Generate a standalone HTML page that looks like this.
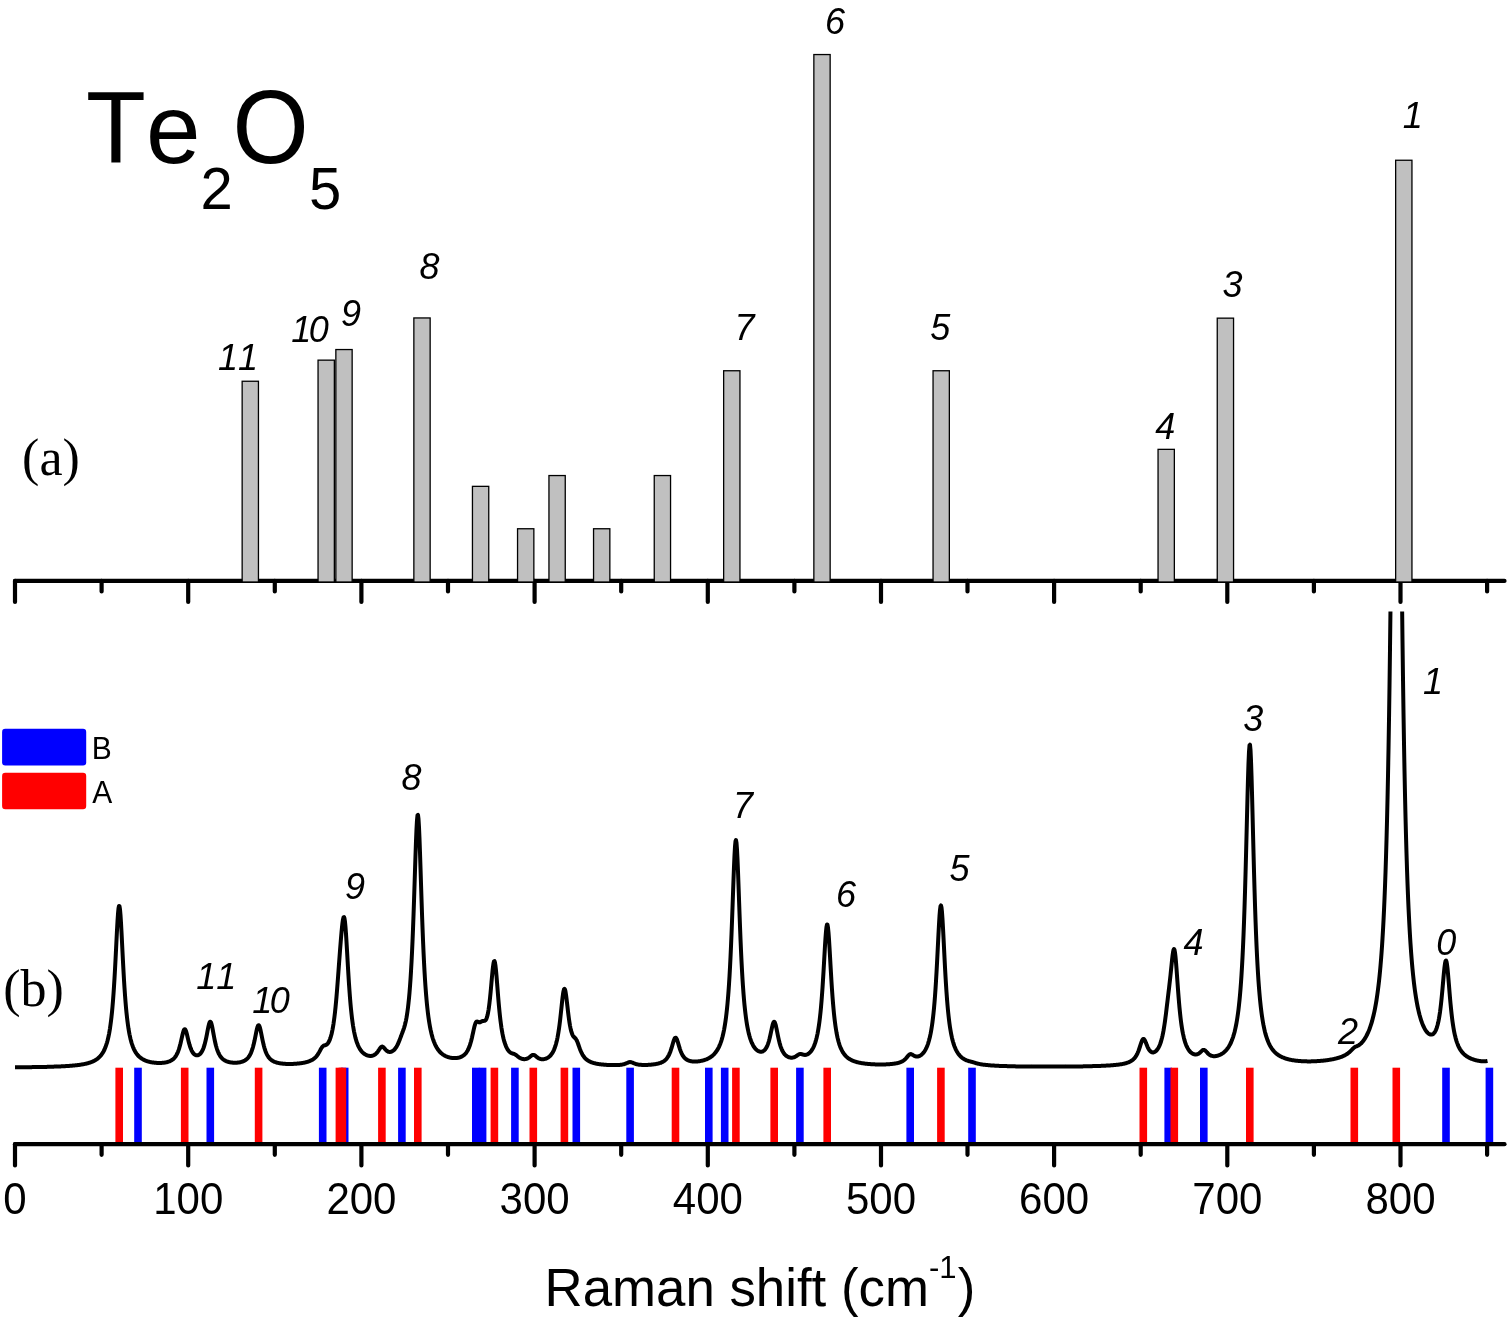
<!DOCTYPE html>
<html lang="en"><head><meta charset="utf-8"><title>Te2O5 Raman spectrum</title>
<style>html,body{margin:0;padding:0;background:#fff}svg{display:block}text{font-kerning:none;font-variant-ligatures:none}</style></head>
<body>
<svg width="1508" height="1320" viewBox="0 0 1508 1320">
<rect width="1508" height="1320" fill="#fff"/>
<g stroke="#000" stroke-width="4.2" stroke-linecap="round" fill="none">
<path d="M15.0 580.9H1504.5"/>
<path d="M15.0 580.9v21.0M101.6 580.9v10.6M188.2 580.9v21.0M274.8 580.9v10.6M361.4 580.9v21.0M448.0 580.9v10.6M534.6 580.9v21.0M621.2 580.9v10.6M707.8 580.9v21.0M794.4 580.9v10.6M881.0 580.9v21.0M967.5 580.9v10.6M1054.1 580.9v21.0M1140.7 580.9v10.6M1227.3 580.9v21.0M1313.9 580.9v10.6M1400.5 580.9v21.0M1487.1 580.9v10.6"/>
</g>
<g fill="#c0c0c0" stroke="#000" stroke-width="1.3">
<rect x="242.15" y="381.25" width="16.3" height="200.75"/>
<rect x="318.05" y="360.15" width="16.3" height="221.85"/>
<rect x="335.85" y="349.55" width="16.3" height="232.45"/>
<rect x="413.85" y="317.95" width="16.3" height="264.05"/>
<rect x="472.45" y="486.35" width="16.3" height="95.65"/>
<rect x="517.55" y="528.75" width="16.3" height="53.25"/>
<rect x="548.95" y="475.55" width="16.3" height="106.45"/>
<rect x="593.55" y="528.75" width="16.3" height="53.25"/>
<rect x="654.25" y="475.55" width="16.3" height="106.45"/>
<rect x="723.65" y="370.75" width="16.3" height="211.25"/>
<rect x="813.85" y="54.55" width="16.3" height="527.45"/>
<rect x="933.05" y="370.75" width="16.3" height="211.25"/>
<rect x="1158.05" y="449.35" width="16.3" height="132.65"/>
<rect x="1217.25" y="318.15" width="16.3" height="263.85"/>
<rect x="1395.65" y="160.25" width="16.3" height="421.75"/>
</g>
<g fill="#00f">
<rect x="134.2" y="1067.7" width="7.6" height="76.5"/>
<rect x="206.5" y="1067.7" width="7.6" height="76.5"/>
<rect x="318.9" y="1067.7" width="7.6" height="76.5"/>
<rect x="340.9" y="1067.7" width="7.6" height="76.5"/>
<rect x="398.1" y="1067.7" width="7.6" height="76.5"/>
<rect x="472.0" y="1067.7" width="7.6" height="76.5"/>
<rect x="478.8" y="1067.7" width="7.6" height="76.5"/>
<rect x="511.1" y="1067.7" width="7.6" height="76.5"/>
<rect x="572.5" y="1067.7" width="7.6" height="76.5"/>
<rect x="626.3" y="1067.7" width="7.6" height="76.5"/>
<rect x="705.0" y="1067.7" width="7.6" height="76.5"/>
<rect x="720.9" y="1067.7" width="7.6" height="76.5"/>
<rect x="796.1" y="1067.7" width="7.6" height="76.5"/>
<rect x="906.4" y="1067.7" width="7.6" height="76.5"/>
<rect x="968.2" y="1067.7" width="7.6" height="76.5"/>
<rect x="1164.4" y="1067.7" width="7.6" height="76.5"/>
<rect x="1200.0" y="1067.7" width="7.6" height="76.5"/>
<rect x="1442.2" y="1067.7" width="7.6" height="76.5"/>
<rect x="1485.6" y="1067.7" width="7.6" height="76.5"/>
</g>
<g fill="#f00">
<rect x="115.4" y="1067.7" width="7.6" height="76.5"/>
<rect x="180.9" y="1067.7" width="7.6" height="76.5"/>
<rect x="254.8" y="1067.7" width="7.6" height="76.5"/>
<rect x="335.6" y="1067.7" width="7.6" height="76.5"/>
<rect x="338.6" y="1067.7" width="7.6" height="76.5"/>
<rect x="378.1" y="1067.7" width="7.6" height="76.5"/>
<rect x="414.0" y="1067.7" width="7.6" height="76.5"/>
<rect x="490.6" y="1067.7" width="7.6" height="76.5"/>
<rect x="529.5" y="1067.7" width="7.6" height="76.5"/>
<rect x="560.6" y="1067.7" width="7.6" height="76.5"/>
<rect x="671.7" y="1067.7" width="7.6" height="76.5"/>
<rect x="732.1" y="1067.7" width="7.6" height="76.5"/>
<rect x="770.4" y="1067.7" width="7.6" height="76.5"/>
<rect x="823.4" y="1067.7" width="7.6" height="76.5"/>
<rect x="937.1" y="1067.7" width="7.6" height="76.5"/>
<rect x="1139.5" y="1067.7" width="7.6" height="76.5"/>
<rect x="1170.5" y="1067.7" width="7.6" height="76.5"/>
<rect x="1246.0" y="1067.7" width="7.6" height="76.5"/>
<rect x="1350.5" y="1067.7" width="7.6" height="76.5"/>
<rect x="1392.5" y="1067.7" width="7.6" height="76.5"/>
</g>
<g stroke="#000" stroke-width="4.2" stroke-linecap="round" fill="none">
<path d="M15.0 1144.2H1504.5"/>
<path d="M15.0 1144.2v21.2M101.6 1144.2v10.6M188.2 1144.2v21.2M274.8 1144.2v10.6M361.4 1144.2v21.2M448.0 1144.2v10.6M534.6 1144.2v21.2M621.2 1144.2v10.6M707.8 1144.2v21.2M794.4 1144.2v10.6M881.0 1144.2v21.2M967.5 1144.2v10.6M1054.1 1144.2v21.2M1140.7 1144.2v10.6M1227.3 1144.2v21.2M1313.9 1144.2v10.6M1400.5 1144.2v21.2M1487.1 1144.2v10.6"/>
</g>
<clipPath id="cp"><rect x="0" y="611.5" width="1508" height="600"/></clipPath>
<path clip-path="url(#cp)" d="M15.0 1067.3 15.5 1067.3 16.0 1067.3 16.5 1067.3 17.0 1067.3 17.5 1067.3 18.0 1067.3 18.5 1067.3 19.0 1067.3 19.5 1067.3 20.0 1067.3 20.5 1067.3 21.0 1067.3 21.5 1067.3 22.0 1067.3 22.5 1067.3 23.0 1067.3 23.5 1067.3 24.0 1067.3 24.5 1067.2 25.0 1067.2 25.5 1067.2 26.0 1067.2 26.5 1067.2 27.0 1067.2 27.5 1067.2 28.0 1067.2 28.5 1067.2 29.0 1067.2 29.5 1067.2 30.0 1067.2 30.5 1067.2 31.0 1067.2 31.5 1067.2 32.0 1067.1 32.5 1067.1 33.0 1067.1 33.5 1067.1 34.0 1067.1 34.5 1067.1 35.0 1067.1 35.5 1067.1 36.0 1067.1 36.5 1067.1 37.0 1067.1 37.5 1067.1 38.0 1067.0 38.5 1067.0 39.0 1067.0 39.5 1067.0 40.0 1067.0 40.5 1067.0 41.0 1067.0 41.5 1067.0 42.0 1067.0 42.5 1067.0 43.0 1066.9 43.5 1066.9 44.0 1066.9 44.5 1066.9 45.0 1066.9 45.5 1066.9 46.0 1066.9 46.5 1066.9 47.0 1066.9 47.5 1066.8 48.0 1066.8 48.5 1066.8 49.0 1066.8 49.5 1066.8 50.0 1066.8 50.5 1066.8 51.0 1066.7 51.5 1066.7 52.0 1066.7 52.5 1066.7 53.0 1066.7 53.5 1066.7 54.0 1066.6 54.5 1066.6 55.0 1066.6 55.5 1066.6 56.0 1066.6 56.5 1066.6 57.0 1066.5 57.5 1066.5 58.0 1066.5 58.5 1066.5 59.0 1066.5 59.5 1066.4 60.0 1066.4 60.5 1066.4 61.0 1066.4 61.5 1066.3 62.0 1066.3 62.5 1066.3 63.0 1066.3 63.5 1066.2 64.0 1066.2 64.5 1066.2 65.0 1066.2 65.5 1066.1 66.0 1066.1 66.5 1066.1 67.0 1066.0 67.5 1066.0 68.0 1066.0 68.5 1065.9 69.0 1065.9 69.5 1065.9 70.0 1065.8 70.5 1065.8 71.0 1065.8 71.5 1065.7 72.0 1065.7 72.5 1065.6 73.0 1065.6 73.5 1065.5 74.0 1065.5 74.5 1065.4 75.0 1065.4 75.5 1065.3 76.0 1065.3 76.5 1065.2 77.0 1065.2 77.5 1065.1 78.0 1065.1 78.5 1065.0 79.0 1064.9 79.5 1064.9 80.0 1064.8 80.5 1064.7 81.0 1064.6 81.5 1064.6 82.0 1064.5 82.5 1064.4 83.0 1064.3 83.5 1064.2 84.0 1064.1 84.5 1064.0 85.0 1063.9 85.5 1063.8 86.0 1063.7 86.5 1063.6 87.0 1063.4 87.5 1063.3 88.0 1063.2 88.5 1063.0 89.0 1062.9 89.5 1062.7 90.0 1062.6 90.5 1062.4 91.0 1062.2 91.5 1062.0 92.0 1061.8 92.5 1061.6 93.0 1061.4 93.5 1061.2 94.0 1060.9 94.5 1060.6 95.0 1060.4 95.5 1060.1 96.0 1059.8 96.5 1059.4 97.0 1059.1 97.5 1058.7 98.0 1058.3 98.5 1057.9 99.0 1057.4 99.5 1056.9 100.0 1056.4 100.5 1055.9 101.0 1055.3 101.5 1054.6 102.0 1053.9 102.5 1053.2 103.0 1052.4 103.5 1051.5 104.0 1050.5 104.5 1049.5 105.0 1048.3 105.5 1047.1 106.0 1045.7 106.5 1044.2 107.0 1042.6 107.5 1040.8 108.0 1038.7 108.5 1036.5 109.0 1034.1 109.5 1031.3 110.0 1028.3 110.5 1024.8 111.0 1021.0 111.5 1016.8 112.0 1012.0 112.5 1006.6 113.0 1000.6 113.5 993.9 114.0 986.5 114.5 978.4 115.0 969.5 115.5 960.0 116.0 950.1 116.5 940.0 117.0 930.2 117.5 921.3 118.0 913.8 118.5 908.5 119.0 905.9 119.5 906.2 120.0 909.4 120.5 915.2 121.0 922.9 121.5 932.1 122.0 942.0 122.5 952.0 123.0 961.9 123.5 971.2 124.0 980.0 124.5 987.9 125.0 995.2 125.5 1001.7 126.0 1007.6 126.5 1012.8 127.0 1017.4 127.5 1021.6 128.0 1025.3 128.5 1028.7 129.0 1031.6 129.5 1034.3 130.0 1036.7 130.5 1038.9 131.0 1040.8 131.5 1042.6 132.0 1044.2 132.5 1045.6 133.0 1047.0 133.5 1048.2 134.0 1049.3 134.5 1050.3 135.0 1051.2 135.5 1052.1 136.0 1052.9 136.5 1053.6 137.0 1054.3 137.5 1054.9 138.0 1055.5 138.5 1056.0 139.0 1056.5 139.5 1056.9 140.0 1057.4 140.5 1057.8 141.0 1058.1 141.5 1058.5 142.0 1058.8 142.5 1059.1 143.0 1059.4 143.5 1059.7 144.0 1059.9 144.5 1060.2 145.0 1060.4 145.5 1060.6 146.0 1060.8 146.5 1061.0 147.0 1061.1 147.5 1061.3 148.0 1061.5 148.5 1061.6 149.0 1061.7 149.5 1061.9 150.0 1062.0 150.5 1062.1 151.0 1062.2 151.5 1062.3 152.0 1062.4 152.5 1062.4 153.0 1062.5 153.5 1062.6 154.0 1062.6 154.5 1062.7 155.0 1062.8 155.5 1062.8 156.0 1062.8 156.5 1062.9 157.0 1062.9 157.5 1062.9 158.0 1062.9 158.5 1063.0 159.0 1063.0 159.5 1063.0 160.0 1063.0 160.5 1062.9 161.0 1062.9 161.5 1062.9 162.0 1062.9 162.5 1062.8 163.0 1062.8 163.5 1062.7 164.0 1062.7 164.5 1062.6 165.0 1062.5 165.5 1062.5 166.0 1062.4 166.5 1062.3 167.0 1062.1 167.5 1062.0 168.0 1061.9 168.5 1061.7 169.0 1061.5 169.5 1061.3 170.0 1061.1 170.5 1060.9 171.0 1060.6 171.5 1060.3 172.0 1060.0 172.5 1059.6 173.0 1059.3 173.5 1058.8 174.0 1058.3 174.5 1057.8 175.0 1057.2 175.5 1056.5 176.0 1055.8 176.5 1054.9 177.0 1054.0 177.5 1052.9 178.0 1051.7 178.5 1050.4 179.0 1048.9 179.5 1047.2 180.0 1045.4 180.5 1043.5 181.0 1041.4 181.5 1039.1 182.0 1036.9 182.5 1034.7 183.0 1032.7 183.5 1031.0 184.0 1029.8 184.5 1029.2 185.0 1029.2 185.5 1029.9 186.0 1031.1 186.5 1032.7 187.0 1034.6 187.5 1036.7 188.0 1038.9 188.5 1040.9 189.0 1042.9 189.5 1044.7 190.0 1046.3 190.5 1047.8 191.0 1049.1 191.5 1050.3 192.0 1051.3 192.5 1052.1 193.0 1052.9 193.5 1053.5 194.0 1054.0 194.5 1054.4 195.0 1054.8 195.5 1055.0 196.0 1055.2 196.5 1055.3 197.0 1055.3 197.5 1055.3 198.0 1055.2 198.5 1055.0 199.0 1054.8 199.5 1054.4 200.0 1054.0 200.5 1053.5 201.0 1052.9 201.5 1052.2 202.0 1051.3 202.5 1050.4 203.0 1049.2 203.5 1048.0 204.0 1046.5 204.5 1044.9 205.0 1043.0 205.5 1041.0 206.0 1038.8 206.5 1036.3 207.0 1033.8 207.5 1031.1 208.0 1028.6 208.5 1026.2 209.0 1024.1 209.5 1022.6 210.0 1021.8 210.5 1021.8 211.0 1022.5 211.5 1024.0 212.0 1026.0 212.5 1028.5 213.0 1031.1 213.5 1033.8 214.0 1036.5 214.5 1039.1 215.0 1041.5 215.5 1043.7 216.0 1045.7 216.5 1047.5 217.0 1049.1 217.5 1050.5 218.0 1051.8 218.5 1053.0 219.0 1054.0 219.5 1054.9 220.0 1055.8 220.5 1056.5 221.0 1057.1 221.5 1057.7 222.0 1058.3 222.5 1058.8 223.0 1059.2 223.5 1059.6 224.0 1059.9 224.5 1060.3 225.0 1060.5 225.5 1060.8 226.0 1061.0 226.5 1061.3 227.0 1061.5 227.5 1061.6 228.0 1061.8 228.5 1061.9 229.0 1062.1 229.5 1062.2 230.0 1062.3 230.5 1062.4 231.0 1062.5 231.5 1062.5 232.0 1062.6 232.5 1062.6 233.0 1062.7 233.5 1062.7 234.0 1062.7 234.5 1062.8 235.0 1062.8 235.5 1062.8 236.0 1062.7 236.5 1062.7 237.0 1062.7 237.5 1062.6 238.0 1062.6 238.5 1062.5 239.0 1062.5 239.5 1062.4 240.0 1062.3 240.5 1062.2 241.0 1062.0 241.5 1061.9 242.0 1061.7 242.5 1061.6 243.0 1061.4 243.5 1061.2 244.0 1060.9 244.5 1060.7 245.0 1060.4 245.5 1060.0 246.0 1059.7 246.5 1059.3 247.0 1058.8 247.5 1058.3 248.0 1057.8 248.5 1057.2 249.0 1056.5 249.5 1055.7 250.0 1054.9 250.5 1053.9 251.0 1052.8 251.5 1051.6 252.0 1050.2 252.5 1048.7 253.0 1047.0 253.5 1045.1 254.0 1043.0 254.5 1040.8 255.0 1038.3 255.5 1035.8 256.0 1033.3 256.5 1030.9 257.0 1028.7 257.5 1026.9 258.0 1025.7 258.5 1025.2 259.0 1025.4 259.5 1026.4 260.0 1027.9 260.5 1030.0 261.0 1032.3 261.5 1034.9 262.0 1037.4 262.5 1039.9 263.0 1042.2 263.5 1044.3 264.0 1046.3 264.5 1048.1 265.0 1049.7 265.5 1051.2 266.0 1052.4 266.5 1053.6 267.0 1054.6 267.5 1055.5 268.0 1056.3 268.5 1057.1 269.0 1057.7 269.5 1058.3 270.0 1058.8 270.5 1059.3 271.0 1059.7 271.5 1060.1 272.0 1060.5 272.5 1060.8 273.0 1061.1 273.5 1061.4 274.0 1061.6 274.5 1061.8 275.0 1062.0 275.5 1062.2 276.0 1062.4 276.5 1062.5 277.0 1062.7 277.5 1062.8 278.0 1062.9 278.5 1063.0 279.0 1063.1 279.5 1063.2 280.0 1063.3 280.5 1063.4 281.0 1063.5 281.5 1063.5 282.0 1063.6 282.5 1063.6 283.0 1063.7 283.5 1063.7 284.0 1063.8 284.5 1063.8 285.0 1063.8 285.5 1063.9 286.0 1063.9 286.5 1063.9 287.0 1063.9 287.5 1063.9 288.0 1064.0 288.5 1064.0 289.0 1064.0 289.5 1064.0 290.0 1064.0 290.5 1064.0 291.0 1063.9 291.5 1063.9 292.0 1063.9 292.5 1063.9 293.0 1063.9 293.5 1063.9 294.0 1063.8 294.5 1063.8 295.0 1063.8 295.5 1063.8 296.0 1063.7 296.5 1063.7 297.0 1063.6 297.5 1063.6 298.0 1063.5 298.5 1063.5 299.0 1063.4 299.5 1063.4 300.0 1063.3 300.5 1063.3 301.0 1063.2 301.5 1063.1 302.0 1063.0 302.5 1063.0 303.0 1062.9 303.5 1062.8 304.0 1062.7 304.5 1062.6 305.0 1062.5 305.5 1062.4 306.0 1062.2 306.5 1062.1 307.0 1062.0 307.5 1061.8 308.0 1061.7 308.5 1061.5 309.0 1061.3 309.5 1061.1 310.0 1060.9 310.5 1060.7 311.0 1060.5 311.5 1060.2 312.0 1060.0 312.5 1059.7 313.0 1059.4 313.5 1059.0 314.0 1058.6 314.5 1058.2 315.0 1057.8 315.5 1057.3 316.0 1056.8 316.5 1056.2 317.0 1055.6 317.5 1054.9 318.0 1054.1 318.5 1053.3 319.0 1052.5 319.5 1051.6 320.0 1050.7 320.5 1049.7 321.0 1048.8 321.5 1048.0 322.0 1047.2 322.5 1046.6 323.0 1046.1 323.5 1045.8 324.0 1045.5 324.5 1045.4 325.0 1045.3 325.5 1045.1 326.0 1044.9 326.5 1044.7 327.0 1044.3 327.5 1043.8 328.0 1043.2 328.5 1042.4 329.0 1041.5 329.5 1040.4 330.0 1039.2 330.5 1037.7 331.0 1036.0 331.5 1034.2 332.0 1032.0 332.5 1029.6 333.0 1026.8 333.5 1023.8 334.0 1020.3 334.5 1016.5 335.0 1012.2 335.5 1007.5 336.0 1002.3 336.5 996.7 337.0 990.6 337.5 984.2 338.0 977.6 338.5 970.8 339.0 964.0 339.5 957.3 340.0 950.7 340.5 944.3 341.0 938.2 341.5 932.5 342.0 927.3 342.5 922.8 343.0 919.4 343.5 917.4 344.0 917.0 344.5 918.5 345.0 921.9 345.5 927.2 346.0 933.9 346.5 941.8 347.0 950.4 347.5 959.2 348.0 967.9 348.5 976.2 349.0 984.0 349.5 991.2 350.0 997.8 350.5 1003.8 351.0 1009.1 351.5 1013.9 352.0 1018.2 352.5 1022.0 353.0 1025.5 353.5 1028.5 354.0 1031.3 354.5 1033.7 355.0 1035.9 355.5 1037.9 356.0 1039.7 356.5 1041.3 357.0 1042.8 357.5 1044.1 358.0 1045.3 358.5 1046.4 359.0 1047.4 359.5 1048.3 360.0 1049.1 360.5 1049.9 361.0 1050.6 361.5 1051.2 362.0 1051.8 362.5 1052.3 363.0 1052.8 363.5 1053.2 364.0 1053.6 364.5 1054.0 365.0 1054.3 365.5 1054.6 366.0 1054.9 366.5 1055.1 367.0 1055.3 367.5 1055.5 368.0 1055.6 368.5 1055.7 369.0 1055.8 369.5 1055.9 370.0 1055.9 370.5 1056.0 371.0 1055.9 371.5 1055.9 372.0 1055.8 372.5 1055.7 373.0 1055.5 373.5 1055.4 374.0 1055.1 374.5 1054.8 375.0 1054.5 375.5 1054.1 376.0 1053.7 376.5 1053.2 377.0 1052.6 377.5 1052.0 378.0 1051.3 378.5 1050.5 379.0 1049.8 379.5 1049.0 380.0 1048.3 380.5 1047.6 381.0 1047.1 381.5 1046.7 382.0 1046.6 382.5 1046.6 383.0 1046.9 383.5 1047.3 384.0 1047.8 384.5 1048.4 385.0 1049.0 385.5 1049.6 386.0 1050.1 386.5 1050.6 387.0 1051.0 387.5 1051.3 388.0 1051.6 388.5 1051.8 389.0 1051.9 389.5 1052.0 390.0 1052.0 390.5 1051.9 391.0 1051.8 391.5 1051.6 392.0 1051.4 392.5 1051.1 393.0 1050.8 393.5 1050.4 394.0 1050.0 394.5 1049.5 395.0 1048.9 395.5 1048.2 396.0 1047.5 396.5 1046.7 397.0 1045.8 397.5 1044.9 398.0 1043.8 398.5 1042.7 399.0 1041.5 399.5 1040.3 400.0 1038.9 400.5 1037.6 401.0 1036.3 401.5 1034.9 402.0 1033.6 402.5 1032.3 403.0 1030.9 403.5 1029.5 404.0 1028.1 404.5 1026.4 405.0 1024.6 405.5 1022.6 406.0 1020.3 406.5 1017.7 407.0 1014.7 407.5 1011.3 408.0 1007.5 408.5 1003.1 409.0 998.2 409.5 992.7 410.0 986.4 410.5 979.3 411.0 971.4 411.5 962.5 412.0 952.5 412.5 941.4 413.0 929.1 413.5 915.7 414.0 901.2 414.5 886.0 415.0 870.5 415.5 855.3 416.0 841.1 416.5 829.1 417.0 820.2 417.5 815.3 418.0 814.9 418.5 819.0 419.0 827.3 419.5 838.8 420.0 852.7 420.5 867.9 421.0 883.5 421.5 898.9 422.0 913.7 422.5 927.4 423.0 940.0 423.5 951.5 424.0 961.9 424.5 971.2 425.0 979.5 425.5 986.9 426.0 993.5 426.5 999.4 427.0 1004.7 427.5 1009.4 428.0 1013.7 428.5 1017.5 429.0 1020.9 429.5 1024.0 430.0 1026.8 430.5 1029.4 431.0 1031.7 431.5 1033.8 432.0 1035.7 432.5 1037.5 433.0 1039.1 433.5 1040.5 434.0 1041.9 434.5 1043.1 435.0 1044.3 435.5 1045.3 436.0 1046.3 436.5 1047.2 437.0 1048.1 437.5 1048.8 438.0 1049.6 438.5 1050.2 439.0 1050.9 439.5 1051.5 440.0 1052.0 440.5 1052.5 441.0 1053.0 441.5 1053.4 442.0 1053.8 442.5 1054.2 443.0 1054.6 443.5 1054.9 444.0 1055.2 444.5 1055.5 445.0 1055.8 445.5 1056.1 446.0 1056.3 446.5 1056.5 447.0 1056.7 447.5 1056.9 448.0 1057.1 448.5 1057.2 449.0 1057.4 449.5 1057.5 450.0 1057.6 450.5 1057.7 451.0 1057.8 451.5 1057.9 452.0 1058.0 452.5 1058.0 453.0 1058.1 453.5 1058.1 454.0 1058.1 454.5 1058.1 455.0 1058.1 455.5 1058.1 456.0 1058.1 456.5 1058.0 457.0 1058.0 457.5 1057.9 458.0 1057.8 458.5 1057.7 459.0 1057.6 459.5 1057.5 460.0 1057.3 460.5 1057.1 461.0 1056.9 461.5 1056.7 462.0 1056.4 462.5 1056.1 463.0 1055.8 463.5 1055.4 464.0 1055.1 464.5 1054.6 465.0 1054.1 465.5 1053.6 466.0 1053.0 466.5 1052.3 467.0 1051.5 467.5 1050.7 468.0 1049.8 468.5 1048.7 469.0 1047.6 469.5 1046.3 470.0 1044.8 470.5 1043.2 471.0 1041.5 471.5 1039.5 472.0 1037.5 472.5 1035.2 473.0 1033.0 473.5 1030.6 474.0 1028.4 474.5 1026.3 475.0 1024.6 475.5 1023.2 476.0 1022.2 476.5 1021.7 477.0 1021.5 477.5 1021.6 478.0 1021.8 478.5 1022.1 479.0 1022.3 479.5 1022.4 480.0 1022.3 480.5 1022.1 481.0 1021.8 481.5 1021.5 482.0 1021.2 482.5 1021.0 483.0 1020.9 483.5 1020.9 484.0 1020.9 484.5 1020.8 485.0 1020.6 485.5 1020.3 486.0 1019.6 486.5 1018.6 487.0 1017.2 487.5 1015.3 488.0 1013.0 488.5 1010.1 489.0 1006.7 489.5 1002.8 490.0 998.3 490.5 993.3 491.0 987.9 491.5 982.2 492.0 976.6 492.5 971.3 493.0 966.8 493.5 963.3 494.0 961.3 494.5 961.1 495.0 962.7 495.5 965.9 496.0 970.4 496.5 976.0 497.0 982.1 497.5 988.5 498.0 994.8 498.5 1000.9 499.0 1006.5 499.5 1011.7 500.0 1016.5 500.5 1020.8 501.0 1024.6 501.5 1028.1 502.0 1031.1 502.5 1033.9 503.0 1036.3 503.5 1038.5 504.0 1040.4 504.5 1042.2 505.0 1043.7 505.5 1045.1 506.0 1046.3 506.5 1047.4 507.0 1048.4 507.5 1049.3 508.0 1050.0 508.5 1050.7 509.0 1051.3 509.5 1051.8 510.0 1052.2 510.5 1052.6 511.0 1052.9 511.5 1053.1 512.0 1053.3 512.5 1053.5 513.0 1053.6 513.5 1053.8 514.0 1053.9 514.5 1054.1 515.0 1054.4 515.5 1054.7 516.0 1055.0 516.5 1055.4 517.0 1055.8 517.5 1056.2 518.0 1056.6 518.5 1057.0 519.0 1057.4 519.5 1057.7 520.0 1058.0 520.5 1058.2 521.0 1058.5 521.5 1058.7 522.0 1058.8 522.5 1059.0 523.0 1059.1 523.5 1059.1 524.0 1059.2 524.5 1059.2 525.0 1059.1 525.5 1059.1 526.0 1059.0 526.5 1058.8 527.0 1058.7 527.5 1058.5 528.0 1058.2 528.5 1057.9 529.0 1057.6 529.5 1057.2 530.0 1056.8 530.5 1056.4 531.0 1056.0 531.5 1055.6 532.0 1055.3 532.5 1055.0 533.0 1054.9 533.5 1054.9 534.0 1055.0 534.5 1055.2 535.0 1055.5 535.5 1055.9 536.0 1056.3 536.5 1056.8 537.0 1057.2 537.5 1057.5 538.0 1057.9 538.5 1058.2 539.0 1058.5 539.5 1058.7 540.0 1058.9 540.5 1059.0 541.0 1059.1 541.5 1059.2 542.0 1059.3 542.5 1059.3 543.0 1059.3 543.5 1059.2 544.0 1059.1 544.5 1059.0 545.0 1058.9 545.5 1058.8 546.0 1058.6 546.5 1058.4 547.0 1058.2 547.5 1057.9 548.0 1057.6 548.5 1057.2 549.0 1056.9 549.5 1056.4 550.0 1056.0 550.5 1055.5 551.0 1054.9 551.5 1054.2 552.0 1053.5 552.5 1052.7 553.0 1051.9 553.5 1050.9 554.0 1049.8 554.5 1048.6 555.0 1047.2 555.5 1045.7 556.0 1044.0 556.5 1042.1 557.0 1040.0 557.5 1037.6 558.0 1034.9 558.5 1031.9 559.0 1028.6 559.5 1024.9 560.0 1020.9 560.5 1016.5 561.0 1011.9 561.5 1007.2 562.0 1002.5 562.5 998.1 563.0 994.2 563.5 991.2 564.0 989.4 564.5 988.8 565.0 989.6 565.5 991.6 566.0 994.7 566.5 998.5 567.0 1002.7 567.5 1007.1 568.0 1011.4 568.5 1015.5 569.0 1019.2 569.5 1022.6 570.0 1025.6 570.5 1028.2 571.0 1030.4 571.5 1032.2 572.0 1033.7 572.5 1034.8 573.0 1035.8 573.5 1036.5 574.0 1037.0 574.5 1037.5 575.0 1038.0 575.5 1038.5 576.0 1039.2 576.5 1040.0 577.0 1041.0 577.5 1042.2 578.0 1043.5 578.5 1045.0 579.0 1046.4 579.5 1047.8 580.0 1049.2 580.5 1050.4 581.0 1051.6 581.5 1052.7 582.0 1053.7 582.5 1054.7 583.0 1055.5 583.5 1056.2 584.0 1056.9 584.5 1057.5 585.0 1058.1 585.5 1058.6 586.0 1059.1 586.5 1059.5 587.0 1059.9 587.5 1060.3 588.0 1060.6 588.5 1060.9 589.0 1061.2 589.5 1061.4 590.0 1061.7 590.5 1061.9 591.0 1062.1 591.5 1062.3 592.0 1062.5 592.5 1062.6 593.0 1062.8 593.5 1063.0 594.0 1063.1 594.5 1063.2 595.0 1063.3 595.5 1063.5 596.0 1063.6 596.5 1063.7 597.0 1063.8 597.5 1063.9 598.0 1063.9 598.5 1064.0 599.0 1064.1 599.5 1064.2 600.0 1064.2 600.5 1064.3 601.0 1064.4 601.5 1064.4 602.0 1064.5 602.5 1064.5 603.0 1064.6 603.5 1064.6 604.0 1064.7 604.5 1064.7 605.0 1064.8 605.5 1064.8 606.0 1064.8 606.5 1064.9 607.0 1064.9 607.5 1064.9 608.0 1065.0 608.5 1065.0 609.0 1065.0 609.5 1065.0 610.0 1065.0 610.5 1065.1 611.0 1065.1 611.5 1065.1 612.0 1065.1 612.5 1065.1 613.0 1065.1 613.5 1065.1 614.0 1065.1 614.5 1065.1 615.0 1065.1 615.5 1065.1 616.0 1065.1 616.5 1065.1 617.0 1065.1 617.5 1065.0 618.0 1065.0 618.5 1065.0 619.0 1065.0 619.5 1064.9 620.0 1064.9 620.5 1064.8 621.0 1064.8 621.5 1064.7 622.0 1064.6 622.5 1064.5 623.0 1064.4 623.5 1064.3 624.0 1064.2 624.5 1064.0 625.0 1063.8 625.5 1063.7 626.0 1063.5 626.5 1063.2 627.0 1063.0 627.5 1062.8 628.0 1062.6 628.5 1062.4 629.0 1062.2 629.5 1062.1 630.0 1062.1 630.5 1062.1 631.0 1062.2 631.5 1062.3 632.0 1062.5 632.5 1062.7 633.0 1062.9 633.5 1063.1 634.0 1063.3 634.5 1063.5 635.0 1063.7 635.5 1063.9 636.0 1064.1 636.5 1064.2 637.0 1064.3 637.5 1064.4 638.0 1064.5 638.5 1064.6 639.0 1064.7 639.5 1064.7 640.0 1064.8 640.5 1064.8 641.0 1064.8 641.5 1064.9 642.0 1064.9 642.5 1064.9 643.0 1064.9 643.5 1064.9 644.0 1064.9 644.5 1064.9 645.0 1064.9 645.5 1064.9 646.0 1064.9 646.5 1064.9 647.0 1064.9 647.5 1064.9 648.0 1064.9 648.5 1064.8 649.0 1064.8 649.5 1064.8 650.0 1064.7 650.5 1064.7 651.0 1064.7 651.5 1064.6 652.0 1064.6 652.5 1064.5 653.0 1064.5 653.5 1064.4 654.0 1064.3 654.5 1064.3 655.0 1064.2 655.5 1064.1 656.0 1064.0 656.5 1063.9 657.0 1063.8 657.5 1063.7 658.0 1063.6 658.5 1063.5 659.0 1063.3 659.5 1063.2 660.0 1063.0 660.5 1062.8 661.0 1062.7 661.5 1062.4 662.0 1062.2 662.5 1062.0 663.0 1061.7 663.5 1061.4 664.0 1061.1 664.5 1060.7 665.0 1060.3 665.5 1059.8 666.0 1059.3 666.5 1058.8 667.0 1058.1 667.5 1057.4 668.0 1056.7 668.5 1055.8 669.0 1054.8 669.5 1053.7 670.0 1052.5 670.5 1051.2 671.0 1049.7 671.5 1048.2 672.0 1046.5 672.5 1044.7 673.0 1043.0 673.5 1041.4 674.0 1039.9 674.5 1038.7 675.0 1038.0 675.5 1037.7 676.0 1037.9 676.5 1038.6 677.0 1039.7 677.5 1041.1 678.0 1042.7 678.5 1044.4 679.0 1046.1 679.5 1047.7 680.0 1049.3 680.5 1050.7 681.0 1051.9 681.5 1053.1 682.0 1054.1 682.5 1055.1 683.0 1055.9 683.5 1056.6 684.0 1057.2 684.5 1057.8 685.0 1058.3 685.5 1058.7 686.0 1059.1 686.5 1059.5 687.0 1059.8 687.5 1060.0 688.0 1060.3 688.5 1060.5 689.0 1060.7 689.5 1060.8 690.0 1061.0 690.5 1061.1 691.0 1061.2 691.5 1061.3 692.0 1061.4 692.5 1061.4 693.0 1061.5 693.5 1061.5 694.0 1061.5 694.5 1061.5 695.0 1061.5 695.5 1061.5 696.0 1061.5 696.5 1061.5 697.0 1061.5 697.5 1061.4 698.0 1061.4 698.5 1061.3 699.0 1061.3 699.5 1061.2 700.0 1061.1 700.5 1061.0 701.0 1060.9 701.5 1060.8 702.0 1060.7 702.5 1060.6 703.0 1060.5 703.5 1060.3 704.0 1060.2 704.5 1060.0 705.0 1059.9 705.5 1059.7 706.0 1059.5 706.5 1059.3 707.0 1059.1 707.5 1058.9 708.0 1058.6 708.5 1058.4 709.0 1058.1 709.5 1057.8 710.0 1057.5 710.5 1057.2 711.0 1056.8 711.5 1056.5 712.0 1056.1 712.5 1055.7 713.0 1055.2 713.5 1054.8 714.0 1054.3 714.5 1053.7 715.0 1053.2 715.5 1052.5 716.0 1051.9 716.5 1051.2 717.0 1050.4 717.5 1049.6 718.0 1048.8 718.5 1047.8 719.0 1046.8 719.5 1045.7 720.0 1044.5 720.5 1043.2 721.0 1041.8 721.5 1040.3 722.0 1038.6 722.5 1036.8 723.0 1034.7 723.5 1032.5 724.0 1030.1 724.5 1027.4 725.0 1024.4 725.5 1021.1 726.0 1017.4 726.5 1013.3 727.0 1008.7 727.5 1003.6 728.0 997.9 728.5 991.5 729.0 984.3 729.5 976.3 730.0 967.4 730.5 957.4 731.0 946.4 731.5 934.4 732.0 921.5 732.5 907.8 733.0 893.7 733.5 879.7 734.0 866.6 734.5 855.3 735.0 846.5 735.5 841.3 736.0 840.0 736.5 842.9 737.0 849.6 737.5 859.4 738.0 871.5 738.5 885.0 739.0 899.1 739.5 913.0 740.0 926.4 740.5 939.0 741.0 950.5 741.5 961.1 742.0 970.6 742.5 979.1 743.0 986.7 743.5 993.5 744.0 999.6 744.5 1005.0 745.0 1009.8 745.5 1014.1 746.0 1018.0 746.5 1021.5 747.0 1024.6 747.5 1027.4 748.0 1029.9 748.5 1032.2 749.0 1034.2 749.5 1036.1 750.0 1037.8 750.5 1039.3 751.0 1040.7 751.5 1042.0 752.0 1043.2 752.5 1044.2 753.0 1045.2 753.5 1046.1 754.0 1046.9 754.5 1047.6 755.0 1048.2 755.5 1048.8 756.0 1049.3 756.5 1049.8 757.0 1050.2 757.5 1050.6 758.0 1050.9 758.5 1051.2 759.0 1051.4 759.5 1051.5 760.0 1051.7 760.5 1051.7 761.0 1051.7 761.5 1051.7 762.0 1051.6 762.5 1051.5 763.0 1051.2 763.5 1050.9 764.0 1050.6 764.5 1050.1 765.0 1049.6 765.5 1049.0 766.0 1048.2 766.5 1047.4 767.0 1046.4 767.5 1045.2 768.0 1043.9 768.5 1042.4 769.0 1040.7 769.5 1038.8 770.0 1036.7 770.5 1034.5 771.0 1032.2 771.5 1029.8 772.0 1027.5 772.5 1025.4 773.0 1023.6 773.5 1022.4 774.0 1021.8 774.5 1021.9 775.0 1022.8 775.5 1024.3 776.0 1026.3 776.5 1028.6 777.0 1031.1 777.5 1033.6 778.0 1036.1 778.5 1038.4 779.0 1040.6 779.5 1042.6 780.0 1044.4 780.5 1046.1 781.0 1047.5 781.5 1048.8 782.0 1050.0 782.5 1051.0 783.0 1051.9 783.5 1052.7 784.0 1053.5 784.5 1054.1 785.0 1054.7 785.5 1055.2 786.0 1055.6 786.5 1056.0 787.0 1056.3 787.5 1056.6 788.0 1056.9 788.5 1057.1 789.0 1057.3 789.5 1057.4 790.0 1057.5 790.5 1057.6 791.0 1057.7 791.5 1057.7 792.0 1057.7 792.5 1057.6 793.0 1057.5 793.5 1057.4 794.0 1057.3 794.5 1057.1 795.0 1056.9 795.5 1056.6 796.0 1056.3 796.5 1056.0 797.0 1055.6 797.5 1055.3 798.0 1054.9 798.5 1054.6 799.0 1054.3 799.5 1054.1 800.0 1054.0 800.5 1054.0 801.0 1054.0 801.5 1054.1 802.0 1054.3 802.5 1054.4 803.0 1054.6 803.5 1054.7 804.0 1054.8 804.5 1054.9 805.0 1054.9 805.5 1054.9 806.0 1054.8 806.5 1054.7 807.0 1054.5 807.5 1054.3 808.0 1054.0 808.5 1053.7 809.0 1053.3 809.5 1052.9 810.0 1052.4 810.5 1051.9 811.0 1051.3 811.5 1050.6 812.0 1049.9 812.5 1049.0 813.0 1048.1 813.5 1047.1 814.0 1046.0 814.5 1044.7 815.0 1043.4 815.5 1041.8 816.0 1040.1 816.5 1038.2 817.0 1036.1 817.5 1033.8 818.0 1031.1 818.5 1028.2 819.0 1024.9 819.5 1021.2 820.0 1017.0 820.5 1012.4 821.0 1007.2 821.5 1001.3 822.0 994.9 822.5 987.8 823.0 980.0 823.5 971.8 824.0 963.1 824.5 954.3 825.0 945.7 825.5 937.9 826.0 931.4 826.5 926.8 827.0 924.5 827.5 924.8 828.0 927.6 828.5 932.7 829.0 939.5 829.5 947.6 830.0 956.2 830.5 965.1 831.0 973.7 831.5 982.0 832.0 989.6 832.5 996.6 833.0 1003.0 833.5 1008.7 834.0 1013.9 834.5 1018.5 835.0 1022.6 835.5 1026.3 836.0 1029.5 836.5 1032.5 837.0 1035.1 837.5 1037.5 838.0 1039.6 838.5 1041.5 839.0 1043.2 839.5 1044.8 840.0 1046.2 840.5 1047.5 841.0 1048.7 841.5 1049.7 842.0 1050.7 842.5 1051.6 843.0 1052.5 843.5 1053.2 844.0 1053.9 844.5 1054.6 845.0 1055.2 845.5 1055.7 846.0 1056.3 846.5 1056.7 847.0 1057.2 847.5 1057.6 848.0 1058.0 848.5 1058.4 849.0 1058.7 849.5 1059.0 850.0 1059.3 850.5 1059.6 851.0 1059.9 851.5 1060.1 852.0 1060.4 852.5 1060.6 853.0 1060.8 853.5 1061.0 854.0 1061.2 854.5 1061.4 855.0 1061.5 855.5 1061.7 856.0 1061.9 856.5 1062.0 857.0 1062.1 857.5 1062.3 858.0 1062.4 858.5 1062.5 859.0 1062.6 859.5 1062.7 860.0 1062.8 860.5 1062.9 861.0 1063.0 861.5 1063.1 862.0 1063.2 862.5 1063.3 863.0 1063.3 863.5 1063.4 864.0 1063.5 864.5 1063.6 865.0 1063.6 865.5 1063.7 866.0 1063.7 866.5 1063.8 867.0 1063.8 867.5 1063.9 868.0 1063.9 868.5 1064.0 869.0 1064.0 869.5 1064.1 870.0 1064.1 870.5 1064.1 871.0 1064.2 871.5 1064.2 872.0 1064.2 872.5 1064.2 873.0 1064.3 873.5 1064.3 874.0 1064.3 874.5 1064.3 875.0 1064.4 875.5 1064.4 876.0 1064.4 876.5 1064.4 877.0 1064.4 877.5 1064.4 878.0 1064.4 878.5 1064.4 879.0 1064.4 879.5 1064.5 880.0 1064.5 880.5 1064.5 881.0 1064.5 881.5 1064.5 882.0 1064.4 882.5 1064.4 883.0 1064.4 883.5 1064.4 884.0 1064.4 884.5 1064.4 885.0 1064.4 885.5 1064.4 886.0 1064.4 886.5 1064.3 887.0 1064.3 887.5 1064.3 888.0 1064.3 888.5 1064.2 889.0 1064.2 889.5 1064.2 890.0 1064.1 890.5 1064.1 891.0 1064.1 891.5 1064.0 892.0 1064.0 892.5 1063.9 893.0 1063.8 893.5 1063.8 894.0 1063.7 894.5 1063.6 895.0 1063.6 895.5 1063.5 896.0 1063.4 896.5 1063.3 897.0 1063.2 897.5 1063.1 898.0 1063.0 898.5 1062.8 899.0 1062.7 899.5 1062.5 900.0 1062.3 900.5 1062.2 901.0 1062.0 901.5 1061.7 902.0 1061.5 902.5 1061.2 903.0 1060.9 903.5 1060.6 904.0 1060.2 904.5 1059.8 905.0 1059.3 905.5 1058.8 906.0 1058.3 906.5 1057.7 907.0 1057.1 907.5 1056.5 908.0 1055.9 908.5 1055.4 909.0 1054.9 909.5 1054.5 910.0 1054.2 910.5 1054.1 911.0 1054.1 911.5 1054.3 912.0 1054.5 912.5 1054.8 913.0 1055.1 913.5 1055.4 914.0 1055.7 914.5 1056.0 915.0 1056.2 915.5 1056.4 916.0 1056.5 916.5 1056.6 917.0 1056.6 917.5 1056.6 918.0 1056.5 918.5 1056.4 919.0 1056.2 919.5 1056.0 920.0 1055.7 920.5 1055.4 921.0 1055.1 921.5 1054.7 922.0 1054.2 922.5 1053.8 923.0 1053.2 923.5 1052.6 924.0 1052.0 924.5 1051.3 925.0 1050.5 925.5 1049.6 926.0 1048.6 926.5 1047.6 927.0 1046.4 927.5 1045.2 928.0 1043.8 928.5 1042.2 929.0 1040.5 929.5 1038.6 930.0 1036.5 930.5 1034.2 931.0 1031.6 931.5 1028.7 932.0 1025.5 932.5 1021.9 933.0 1017.8 933.5 1013.3 934.0 1008.2 934.5 1002.5 935.0 996.1 935.5 989.0 936.0 981.2 936.5 972.6 937.0 963.4 937.5 953.6 938.0 943.6 938.5 933.7 939.0 924.3 939.5 916.2 940.0 910.0 940.5 906.3 941.0 905.4 941.5 907.5 942.0 912.3 942.5 919.3 943.0 928.0 943.5 937.7 944.0 947.7 944.5 957.7 945.0 967.3 945.5 976.3 946.0 984.6 946.5 992.1 947.0 999.0 947.5 1005.1 948.0 1010.6 948.5 1015.4 949.0 1019.8 949.5 1023.7 950.0 1027.2 950.5 1030.3 951.0 1033.1 951.5 1035.6 952.0 1037.9 952.5 1039.9 953.0 1041.8 953.5 1043.5 954.0 1045.0 954.5 1046.4 955.0 1047.6 955.5 1048.8 956.0 1049.9 956.5 1050.8 957.0 1051.7 957.5 1052.5 958.0 1053.3 958.5 1054.0 959.0 1054.6 959.5 1055.2 960.0 1055.8 960.5 1056.3 961.0 1056.8 961.5 1057.3 962.0 1057.7 962.5 1058.1 963.0 1058.4 963.5 1058.8 964.0 1059.1 964.5 1059.4 965.0 1059.6 965.5 1059.9 966.0 1060.1 966.5 1060.3 967.0 1060.5 967.5 1060.7 968.0 1060.9 968.5 1061.0 969.0 1061.2 969.5 1061.3 970.0 1061.4 970.5 1061.5 971.0 1061.7 971.5 1061.8 972.0 1061.9 972.5 1062.1 973.0 1062.2 973.5 1062.4 974.0 1062.5 974.5 1062.7 975.0 1062.9 975.5 1063.0 976.0 1063.2 976.5 1063.3 977.0 1063.4 977.5 1063.6 978.0 1063.7 978.5 1063.8 979.0 1063.9 979.5 1064.0 980.0 1064.1 980.5 1064.2 981.0 1064.3 981.5 1064.4 982.0 1064.4 982.5 1064.5 983.0 1064.6 983.5 1064.7 984.0 1064.7 984.5 1064.8 985.0 1064.8 985.5 1064.9 986.0 1064.9 986.5 1065.0 987.0 1065.0 987.5 1065.1 988.0 1065.1 988.5 1065.2 989.0 1065.2 989.5 1065.3 990.0 1065.3 990.5 1065.4 991.0 1065.4 991.5 1065.4 992.0 1065.5 992.5 1065.5 993.0 1065.5 993.5 1065.6 994.0 1065.6 994.5 1065.6 995.0 1065.7 995.5 1065.7 996.0 1065.7 996.5 1065.7 997.0 1065.8 997.5 1065.8 998.0 1065.8 998.5 1065.8 999.0 1065.9 999.5 1065.9 1000.0 1065.9 1000.5 1065.9 1001.0 1065.9 1001.5 1066.0 1002.0 1066.0 1002.5 1066.0 1003.0 1066.0 1003.5 1066.0 1004.0 1066.1 1004.5 1066.1 1005.0 1066.1 1005.5 1066.1 1006.0 1066.1 1006.5 1066.1 1007.0 1066.1 1007.5 1066.2 1008.0 1066.2 1008.5 1066.2 1009.0 1066.2 1009.5 1066.2 1010.0 1066.2 1010.5 1066.2 1011.0 1066.3 1011.5 1066.3 1012.0 1066.3 1012.5 1066.3 1013.0 1066.3 1013.5 1066.3 1014.0 1066.3 1014.5 1066.3 1015.0 1066.3 1015.5 1066.4 1016.0 1066.4 1016.5 1066.4 1017.0 1066.4 1017.5 1066.4 1018.0 1066.4 1018.5 1066.4 1019.0 1066.4 1019.5 1066.4 1020.0 1066.4 1020.5 1066.4 1021.0 1066.4 1021.5 1066.4 1022.0 1066.5 1022.5 1066.5 1023.0 1066.5 1023.5 1066.5 1024.0 1066.5 1024.5 1066.5 1025.0 1066.5 1025.5 1066.5 1026.0 1066.5 1026.5 1066.5 1027.0 1066.5 1027.5 1066.5 1028.0 1066.5 1028.5 1066.5 1029.0 1066.5 1029.5 1066.5 1030.0 1066.5 1030.5 1066.5 1031.0 1066.5 1031.5 1066.6 1032.0 1066.6 1032.5 1066.6 1033.0 1066.6 1033.5 1066.6 1034.0 1066.6 1034.5 1066.6 1035.0 1066.6 1035.5 1066.6 1036.0 1066.6 1036.5 1066.6 1037.0 1066.6 1037.5 1066.6 1038.0 1066.6 1038.5 1066.6 1039.0 1066.6 1039.5 1066.6 1040.0 1066.6 1040.5 1066.6 1041.0 1066.6 1041.5 1066.6 1042.0 1066.6 1042.5 1066.6 1043.0 1066.6 1043.5 1066.6 1044.0 1066.6 1044.5 1066.6 1045.0 1066.6 1045.5 1066.6 1046.0 1066.6 1046.5 1066.6 1047.0 1066.6 1047.5 1066.6 1048.0 1066.6 1048.5 1066.6 1049.0 1066.6 1049.5 1066.6 1050.0 1066.6 1050.5 1066.6 1051.0 1066.6 1051.5 1066.6 1052.0 1066.6 1052.5 1066.6 1053.0 1066.6 1053.5 1066.6 1054.0 1066.6 1054.5 1066.6 1055.0 1066.6 1055.5 1066.6 1056.0 1066.6 1056.5 1066.6 1057.0 1066.6 1057.5 1066.6 1058.0 1066.6 1058.5 1066.6 1059.0 1066.6 1059.5 1066.6 1060.0 1066.6 1060.5 1066.6 1061.0 1066.6 1061.5 1066.6 1062.0 1066.6 1062.5 1066.6 1063.0 1066.6 1063.5 1066.6 1064.0 1066.6 1064.5 1066.6 1065.0 1066.6 1065.5 1066.6 1066.0 1066.5 1066.5 1066.5 1067.0 1066.5 1067.5 1066.5 1068.0 1066.5 1068.5 1066.5 1069.0 1066.5 1069.5 1066.5 1070.0 1066.5 1070.5 1066.5 1071.0 1066.5 1071.5 1066.5 1072.0 1066.5 1072.5 1066.5 1073.0 1066.5 1073.5 1066.5 1074.0 1066.5 1074.5 1066.5 1075.0 1066.5 1075.5 1066.5 1076.0 1066.5 1076.5 1066.4 1077.0 1066.4 1077.5 1066.4 1078.0 1066.4 1078.5 1066.4 1079.0 1066.4 1079.5 1066.4 1080.0 1066.4 1080.5 1066.4 1081.0 1066.4 1081.5 1066.4 1082.0 1066.4 1082.5 1066.4 1083.0 1066.4 1083.5 1066.3 1084.0 1066.3 1084.5 1066.3 1085.0 1066.3 1085.5 1066.3 1086.0 1066.3 1086.5 1066.3 1087.0 1066.3 1087.5 1066.3 1088.0 1066.3 1088.5 1066.2 1089.0 1066.2 1089.5 1066.2 1090.0 1066.2 1090.5 1066.2 1091.0 1066.2 1091.5 1066.2 1092.0 1066.2 1092.5 1066.1 1093.0 1066.1 1093.5 1066.1 1094.0 1066.1 1094.5 1066.1 1095.0 1066.1 1095.5 1066.1 1096.0 1066.0 1096.5 1066.0 1097.0 1066.0 1097.5 1066.0 1098.0 1066.0 1098.5 1066.0 1099.0 1065.9 1099.5 1065.9 1100.0 1065.9 1100.5 1065.9 1101.0 1065.9 1101.5 1065.8 1102.0 1065.8 1102.5 1065.8 1103.0 1065.8 1103.5 1065.8 1104.0 1065.7 1104.5 1065.7 1105.0 1065.7 1105.5 1065.7 1106.0 1065.6 1106.5 1065.6 1107.0 1065.6 1107.5 1065.6 1108.0 1065.5 1108.5 1065.5 1109.0 1065.5 1109.5 1065.4 1110.0 1065.4 1110.5 1065.4 1111.0 1065.3 1111.5 1065.3 1112.0 1065.3 1112.5 1065.2 1113.0 1065.2 1113.5 1065.1 1114.0 1065.1 1114.5 1065.0 1115.0 1065.0 1115.5 1064.9 1116.0 1064.9 1116.5 1064.8 1117.0 1064.8 1117.5 1064.7 1118.0 1064.7 1118.5 1064.6 1119.0 1064.5 1119.5 1064.5 1120.0 1064.4 1120.5 1064.3 1121.0 1064.2 1121.5 1064.2 1122.0 1064.1 1122.5 1064.0 1123.0 1063.9 1123.5 1063.8 1124.0 1063.7 1124.5 1063.6 1125.0 1063.4 1125.5 1063.3 1126.0 1063.2 1126.5 1063.0 1127.0 1062.9 1127.5 1062.7 1128.0 1062.5 1128.5 1062.3 1129.0 1062.1 1129.5 1061.9 1130.0 1061.6 1130.5 1061.4 1131.0 1061.1 1131.5 1060.8 1132.0 1060.4 1132.5 1060.1 1133.0 1059.6 1133.5 1059.2 1134.0 1058.7 1134.5 1058.1 1135.0 1057.5 1135.5 1056.8 1136.0 1056.1 1136.5 1055.2 1137.0 1054.3 1137.5 1053.3 1138.0 1052.1 1138.5 1050.9 1139.0 1049.5 1139.5 1048.0 1140.0 1046.5 1140.5 1044.9 1141.0 1043.4 1141.5 1041.9 1142.0 1040.7 1142.5 1039.7 1143.0 1039.1 1143.5 1038.9 1144.0 1039.1 1144.5 1039.8 1145.0 1040.7 1145.5 1041.8 1146.0 1043.1 1146.5 1044.3 1147.0 1045.6 1147.5 1046.8 1148.0 1047.8 1148.5 1048.8 1149.0 1049.6 1149.5 1050.3 1150.0 1050.9 1150.5 1051.4 1151.0 1051.8 1151.5 1052.1 1152.0 1052.3 1152.5 1052.4 1153.0 1052.4 1153.5 1052.4 1154.0 1052.2 1154.5 1052.0 1155.0 1051.8 1155.5 1051.4 1156.0 1051.0 1156.5 1050.5 1157.0 1049.9 1157.5 1049.3 1158.0 1048.5 1158.5 1047.7 1159.0 1046.7 1159.5 1045.6 1160.0 1044.4 1160.5 1043.0 1161.0 1041.5 1161.5 1039.7 1162.0 1037.8 1162.5 1035.7 1163.0 1033.3 1163.5 1030.7 1164.0 1027.7 1164.5 1024.5 1165.0 1021.1 1165.5 1017.3 1166.0 1013.4 1166.5 1009.3 1167.0 1005.1 1167.5 1000.9 1168.0 996.7 1168.5 992.6 1169.0 988.4 1169.5 984.1 1170.0 979.7 1170.5 975.1 1171.0 970.3 1171.5 965.4 1172.0 960.5 1172.5 956.1 1173.0 952.4 1173.5 949.9 1174.0 949.0 1174.5 949.8 1175.0 952.5 1175.5 956.7 1176.0 962.2 1176.5 968.7 1177.0 975.6 1177.5 982.6 1178.0 989.5 1178.5 996.0 1179.0 1002.1 1179.5 1007.7 1180.0 1012.8 1180.5 1017.4 1181.0 1021.5 1181.5 1025.1 1182.0 1028.4 1182.5 1031.3 1183.0 1033.9 1183.5 1036.2 1184.0 1038.3 1184.5 1040.2 1185.0 1041.8 1185.5 1043.3 1186.0 1044.7 1186.5 1045.9 1187.0 1047.0 1187.5 1047.9 1188.0 1048.8 1188.5 1049.6 1189.0 1050.3 1189.5 1051.0 1190.0 1051.5 1190.5 1052.1 1191.0 1052.5 1191.5 1052.9 1192.0 1053.3 1192.5 1053.6 1193.0 1053.8 1193.5 1054.1 1194.0 1054.2 1194.5 1054.4 1195.0 1054.5 1195.5 1054.5 1196.0 1054.5 1196.5 1054.4 1197.0 1054.3 1197.5 1054.2 1198.0 1054.0 1198.5 1053.7 1199.0 1053.4 1199.5 1053.0 1200.0 1052.6 1200.5 1052.1 1201.0 1051.6 1201.5 1051.2 1202.0 1050.7 1202.5 1050.3 1203.0 1050.0 1203.5 1049.9 1204.0 1049.9 1204.5 1050.1 1205.0 1050.4 1205.5 1050.8 1206.0 1051.3 1206.5 1051.9 1207.0 1052.4 1207.5 1053.0 1208.0 1053.5 1208.5 1054.0 1209.0 1054.4 1209.5 1054.7 1210.0 1055.1 1210.5 1055.3 1211.0 1055.6 1211.5 1055.8 1212.0 1055.9 1212.5 1056.0 1213.0 1056.1 1213.5 1056.2 1214.0 1056.2 1214.5 1056.2 1215.0 1056.2 1215.5 1056.1 1216.0 1056.1 1216.5 1056.0 1217.0 1055.9 1217.5 1055.7 1218.0 1055.6 1218.5 1055.4 1219.0 1055.2 1219.5 1055.0 1220.0 1054.8 1220.5 1054.6 1221.0 1054.3 1221.5 1054.0 1222.0 1053.7 1222.5 1053.4 1223.0 1053.1 1223.5 1052.7 1224.0 1052.3 1224.5 1051.8 1225.0 1051.4 1225.5 1050.9 1226.0 1050.4 1226.5 1049.8 1227.0 1049.2 1227.5 1048.5 1228.0 1047.8 1228.5 1047.1 1229.0 1046.3 1229.5 1045.4 1230.0 1044.5 1230.5 1043.5 1231.0 1042.5 1231.5 1041.3 1232.0 1040.1 1232.5 1038.7 1233.0 1037.3 1233.5 1035.7 1234.0 1034.0 1234.5 1032.2 1235.0 1030.1 1235.5 1027.9 1236.0 1025.5 1236.5 1022.9 1237.0 1020.0 1237.5 1016.8 1238.0 1013.3 1238.5 1009.4 1239.0 1005.1 1239.5 1000.3 1240.0 995.0 1240.5 989.0 1241.0 982.4 1241.5 975.0 1242.0 966.7 1242.5 957.4 1243.0 947.0 1243.5 935.4 1244.0 922.4 1244.5 908.0 1245.0 892.1 1245.5 874.8 1246.0 856.1 1246.5 836.5 1247.0 816.5 1247.5 796.8 1248.0 778.6 1248.5 763.1 1249.0 751.7 1249.5 745.3 1250.0 744.7 1250.5 749.9 1251.0 760.5 1251.5 775.3 1252.0 793.0 1252.5 812.5 1253.0 832.5 1253.5 852.3 1254.0 871.2 1254.5 888.8 1255.0 905.0 1255.5 919.7 1256.0 933.0 1256.5 944.9 1257.0 955.5 1257.5 965.0 1258.0 973.5 1258.5 981.1 1259.0 987.9 1259.5 993.9 1260.0 999.4 1260.5 1004.3 1261.0 1008.7 1261.5 1012.7 1262.0 1016.2 1262.5 1019.5 1263.0 1022.5 1263.5 1025.2 1264.0 1027.6 1264.5 1029.9 1265.0 1032.0 1265.5 1033.9 1266.0 1035.6 1266.5 1037.2 1267.0 1038.7 1267.5 1040.1 1268.0 1041.3 1268.5 1042.5 1269.0 1043.6 1269.5 1044.6 1270.0 1045.6 1270.5 1046.5 1271.0 1047.3 1271.5 1048.1 1272.0 1048.8 1272.5 1049.5 1273.0 1050.1 1273.5 1050.7 1274.0 1051.3 1274.5 1051.8 1275.0 1052.3 1275.5 1052.8 1276.0 1053.3 1276.5 1053.7 1277.0 1054.1 1277.5 1054.5 1278.0 1054.8 1278.5 1055.2 1279.0 1055.5 1279.5 1055.8 1280.0 1056.1 1280.5 1056.3 1281.0 1056.6 1281.5 1056.9 1282.0 1057.1 1282.5 1057.3 1283.0 1057.5 1283.5 1057.7 1284.0 1057.9 1284.5 1058.1 1285.0 1058.3 1285.5 1058.5 1286.0 1058.6 1286.5 1058.8 1287.0 1058.9 1287.5 1059.1 1288.0 1059.2 1288.5 1059.3 1289.0 1059.5 1289.5 1059.6 1290.0 1059.7 1290.5 1059.8 1291.0 1059.9 1291.5 1060.0 1292.0 1060.1 1292.5 1060.2 1293.0 1060.2 1293.5 1060.3 1294.0 1060.4 1294.5 1060.5 1295.0 1060.5 1295.5 1060.6 1296.0 1060.7 1296.5 1060.7 1297.0 1060.8 1297.5 1060.8 1298.0 1060.9 1298.5 1060.9 1299.0 1061.0 1299.5 1061.0 1300.0 1061.1 1300.5 1061.1 1301.0 1061.1 1301.5 1061.2 1302.0 1061.2 1302.5 1061.2 1303.0 1061.2 1303.5 1061.3 1304.0 1061.3 1304.5 1061.3 1305.0 1061.3 1305.5 1061.3 1306.0 1061.3 1306.5 1061.3 1307.0 1061.4 1307.5 1061.4 1308.0 1061.4 1308.5 1061.4 1309.0 1061.4 1309.5 1061.4 1310.0 1061.4 1310.5 1061.4 1311.0 1061.4 1311.5 1061.3 1312.0 1061.3 1312.5 1061.3 1313.0 1061.3 1313.5 1061.3 1314.0 1061.3 1314.5 1061.3 1315.0 1061.2 1315.5 1061.2 1316.0 1061.2 1316.5 1061.2 1317.0 1061.1 1317.5 1061.1 1318.0 1061.1 1318.5 1061.0 1319.0 1061.0 1319.5 1061.0 1320.0 1060.9 1320.5 1060.9 1321.0 1060.8 1321.5 1060.8 1322.0 1060.8 1322.5 1060.7 1323.0 1060.7 1323.5 1060.6 1324.0 1060.6 1324.5 1060.5 1325.0 1060.4 1325.5 1060.4 1326.0 1060.3 1326.5 1060.3 1327.0 1060.2 1327.5 1060.1 1328.0 1060.0 1328.5 1060.0 1329.0 1059.9 1329.5 1059.8 1330.0 1059.7 1330.5 1059.6 1331.0 1059.6 1331.5 1059.5 1332.0 1059.4 1332.5 1059.3 1333.0 1059.2 1333.5 1059.1 1334.0 1059.0 1334.5 1058.8 1335.0 1058.7 1335.5 1058.6 1336.0 1058.5 1336.5 1058.4 1337.0 1058.2 1337.5 1058.1 1338.0 1057.9 1338.5 1057.8 1339.0 1057.6 1339.5 1057.5 1340.0 1057.3 1340.5 1057.1 1341.0 1057.0 1341.5 1056.8 1342.0 1056.6 1342.5 1056.4 1343.0 1056.2 1343.5 1055.9 1344.0 1055.7 1344.5 1055.5 1345.0 1055.2 1345.5 1054.9 1346.0 1054.6 1346.5 1054.3 1347.0 1054.0 1347.5 1053.7 1348.0 1053.3 1348.5 1052.9 1349.0 1052.5 1349.5 1052.1 1350.0 1051.6 1350.5 1051.1 1351.0 1050.6 1351.5 1050.1 1352.0 1049.6 1352.5 1049.0 1353.0 1048.6 1353.5 1048.1 1354.0 1047.7 1354.5 1047.3 1355.0 1047.0 1355.5 1046.7 1356.0 1046.5 1356.5 1046.3 1357.0 1046.1 1357.5 1045.9 1358.0 1045.6 1358.5 1045.4 1359.0 1045.0 1359.5 1044.7 1360.0 1044.3 1360.5 1043.9 1361.0 1043.5 1361.5 1043.0 1362.0 1042.4 1362.5 1041.9 1363.0 1041.2 1363.5 1040.6 1364.0 1039.9 1364.5 1039.2 1365.0 1038.4 1365.5 1037.5 1366.0 1036.7 1366.5 1035.7 1367.0 1034.8 1367.5 1033.7 1368.0 1032.6 1368.5 1031.5 1369.0 1030.3 1369.5 1029.0 1370.0 1027.6 1370.5 1026.2 1371.0 1024.7 1371.5 1023.1 1372.0 1021.4 1372.5 1019.5 1373.0 1017.6 1373.5 1015.6 1374.0 1013.4 1374.5 1011.1 1375.0 1008.6 1375.5 1005.9 1376.0 1003.1 1376.5 1000.1 1377.0 996.8 1377.5 993.3 1378.0 989.6 1378.5 985.6 1379.0 981.2 1379.5 976.5 1380.0 971.4 1380.5 965.9 1381.0 959.9 1381.5 953.4 1382.0 946.3 1382.5 938.5 1383.0 930.0 1383.5 920.6 1384.0 910.4 1384.5 899.0 1385.0 886.5 1385.5 872.7 1386.0 857.3 1386.5 840.2 1387.0 821.2 1387.5 799.9 1388.0 776.2 1388.5 749.6 1389.0 719.8 1389.5 686.4 1390.0 649.1 1390.5 607.5 1391.0 561.2 1391.5 560.0 1392.0 560.0 1392.5 560.0 1393.0 560.0 1393.5 560.0 1394.0 560.0 1394.5 560.0 1395.0 560.0 1395.5 560.0 1396.0 560.0 1396.5 560.0 1397.0 560.0 1397.5 560.0 1398.0 560.0 1398.5 560.0 1399.0 560.0 1399.5 560.0 1400.0 560.0 1400.5 560.0 1401.0 560.0 1401.5 560.0 1402.0 598.2 1402.5 640.7 1403.0 678.8 1403.5 712.9 1404.0 743.4 1404.5 770.5 1405.0 794.8 1405.5 816.5 1406.0 835.9 1406.5 853.3 1407.0 869.0 1407.5 883.1 1408.0 895.8 1408.5 907.3 1409.0 917.7 1409.5 927.2 1410.0 935.8 1410.5 943.7 1411.0 950.8 1411.5 957.4 1412.0 963.5 1412.5 969.0 1413.0 974.1 1413.5 978.8 1414.0 983.2 1414.5 987.2 1415.0 990.9 1415.5 994.4 1416.0 997.6 1416.5 1000.6 1417.0 1003.4 1417.5 1006.0 1418.0 1008.4 1418.5 1010.6 1419.0 1012.7 1419.5 1014.7 1420.0 1016.5 1420.5 1018.2 1421.0 1019.8 1421.5 1021.3 1422.0 1022.7 1422.5 1024.0 1423.0 1025.2 1423.5 1026.4 1424.0 1027.4 1424.5 1028.4 1425.0 1029.3 1425.5 1030.1 1426.0 1030.8 1426.5 1031.5 1427.0 1032.1 1427.5 1032.7 1428.0 1033.2 1428.5 1033.6 1429.0 1033.9 1429.5 1034.2 1430.0 1034.4 1430.5 1034.6 1431.0 1034.6 1431.5 1034.6 1432.0 1034.5 1432.5 1034.3 1433.0 1034.1 1433.5 1033.7 1434.0 1033.2 1434.5 1032.5 1435.0 1031.8 1435.5 1030.9 1436.0 1029.8 1436.5 1028.5 1437.0 1027.0 1437.5 1025.3 1438.0 1023.3 1438.5 1021.0 1439.0 1018.4 1439.5 1015.4 1440.0 1012.1 1440.5 1008.2 1441.0 1004.0 1441.5 999.3 1442.0 994.1 1442.5 988.7 1443.0 983.0 1443.5 977.3 1444.0 971.9 1444.5 967.2 1445.0 963.5 1445.5 961.2 1446.0 960.5 1446.5 961.6 1447.0 964.4 1447.5 968.5 1448.0 973.7 1448.5 979.6 1449.0 985.7 1449.5 991.8 1450.0 997.8 1450.5 1003.4 1451.0 1008.5 1451.5 1013.3 1452.0 1017.6 1452.5 1021.4 1453.0 1024.9 1453.5 1028.0 1454.0 1030.8 1454.5 1033.3 1455.0 1035.6 1455.5 1037.6 1456.0 1039.4 1456.5 1041.1 1457.0 1042.6 1457.5 1043.9 1458.0 1045.2 1458.5 1046.3 1459.0 1047.3 1459.5 1048.3 1460.0 1049.2 1460.5 1050.0 1461.0 1050.7 1461.5 1051.4 1462.0 1052.0 1462.5 1052.6 1463.0 1053.2 1463.5 1053.7 1464.0 1054.2 1464.5 1054.6 1465.0 1055.0 1465.5 1055.4 1466.0 1055.8 1466.5 1056.2 1467.0 1056.5 1467.5 1056.8 1468.0 1057.1 1468.5 1057.4 1469.0 1057.7 1469.5 1057.9 1470.0 1058.2 1470.5 1058.4 1471.0 1058.6 1471.5 1058.8 1472.0 1059.0 1472.5 1059.2 1473.0 1059.4 1473.5 1059.5 1474.0 1059.7 1474.5 1059.9 1475.0 1060.0 1475.5 1060.1 1476.0 1060.3 1476.5 1060.4 1477.0 1060.5 1477.5 1060.6 1478.0 1060.7 1478.5 1060.8 1479.0 1060.9 1479.5 1061.0 1480.0 1061.1 1480.5 1061.1 1481.0 1061.2 1481.5 1061.2 1482.0 1061.3 1482.5 1061.3 1483.0 1061.3 1483.5 1061.3 1484.0 1061.3 1484.5 1061.3 1485.0 1061.3 1485.5 1061.2 1486.0 1061.2 1486.5 1061.1 1487.0 1061.1 1487.5 1061.0" fill="none" stroke="#000" stroke-width="4" stroke-linejoin="round" stroke-linecap="butt"/>
<rect x="2.1" y="728.8" width="84.1" height="36.6" rx="3.2" fill="#00f"/>
<rect x="2.1" y="772.8" width="84.1" height="36.5" rx="3.2" fill="#f00"/>
<text transform="translate(91.7 759.2) scale(1 1.04)" font-size="30" font-family="'Liberation Sans',sans-serif">B</text>
<text transform="translate(92.2 803.0) scale(1 1.04)" font-size="30" font-family="'Liberation Sans',sans-serif">A</text>
<text transform="translate(218.1 370.1) scale(1 1.03)" font-size="36" font-family="'Liberation Sans',sans-serif" font-style="italic">11</text>
<text transform="translate(291.2 341.9) scale(1 1.03)" font-size="36" font-family="'Liberation Sans',sans-serif" font-style="italic">1<tspan dx="-2.5">0</tspan></text>
<text transform="translate(340.9 326.1) scale(1 1.03)" font-size="36" font-family="'Liberation Sans',sans-serif" font-style="italic">9</text>
<text transform="translate(419.4 278.8) scale(1 1.03)" font-size="36" font-family="'Liberation Sans',sans-serif" font-style="italic">8</text>
<text transform="translate(734.5 340.3) scale(1 1.03)" font-size="36" font-family="'Liberation Sans',sans-serif" font-style="italic">7</text>
<text transform="translate(825.0 34.4) scale(1 1.03)" font-size="36" font-family="'Liberation Sans',sans-serif" font-style="italic">6</text>
<text transform="translate(930.3 339.9) scale(1 1.03)" font-size="36" font-family="'Liberation Sans',sans-serif" font-style="italic">5</text>
<text transform="translate(1155.2 439.1) scale(1 1.03)" font-size="36" font-family="'Liberation Sans',sans-serif" font-style="italic">4</text>
<text transform="translate(1222.6 296.5) scale(1 1.03)" font-size="36" font-family="'Liberation Sans',sans-serif" font-style="italic">3</text>
<text transform="translate(1402.7 128.0) scale(1 1.03)" font-size="36" font-family="'Liberation Sans',sans-serif" font-style="italic">1</text>
<text transform="translate(196.2 989.0) scale(1 1.03)" font-size="36" font-family="'Liberation Sans',sans-serif" font-style="italic">11</text>
<text transform="translate(252.3 1012.5) scale(1 1.03)" font-size="36" font-family="'Liberation Sans',sans-serif" font-style="italic">1<tspan dx="-2.5">0</tspan></text>
<text transform="translate(344.9 898.9) scale(1 1.03)" font-size="36" font-family="'Liberation Sans',sans-serif" font-style="italic">9</text>
<text transform="translate(401.4 789.8) scale(1 1.03)" font-size="36" font-family="'Liberation Sans',sans-serif" font-style="italic">8</text>
<text transform="translate(733.1 817.5) scale(1 1.03)" font-size="36" font-family="'Liberation Sans',sans-serif" font-style="italic">7</text>
<text transform="translate(836.0 906.9) scale(1 1.03)" font-size="36" font-family="'Liberation Sans',sans-serif" font-style="italic">6</text>
<text transform="translate(949.6 881.2) scale(1 1.03)" font-size="36" font-family="'Liberation Sans',sans-serif" font-style="italic">5</text>
<text transform="translate(1183.5 954.8) scale(1 1.03)" font-size="36" font-family="'Liberation Sans',sans-serif" font-style="italic">4</text>
<text transform="translate(1243.3 731.1) scale(1 1.03)" font-size="36" font-family="'Liberation Sans',sans-serif" font-style="italic">3</text>
<text transform="translate(1338.0 1044.4) scale(1 1.03)" font-size="36" font-family="'Liberation Sans',sans-serif" font-style="italic">2</text>
<text transform="translate(1423.1 694.0) scale(1 1.03)" font-size="36" font-family="'Liberation Sans',sans-serif" font-style="italic">1</text>
<text transform="translate(1436.2 954.9) scale(1 1.03)" font-size="36" font-family="'Liberation Sans',sans-serif" font-style="italic">0</text>
<text x="22.1" y="474.8" font-size="52" font-family="'Liberation Serif',serif">(a)</text>
<text x="3.3" y="1006.2" font-size="52" font-family="'Liberation Serif',serif">(b)</text>
<text transform="translate(15.0 1213.9) scale(1 1.05)" font-size="42" text-anchor="middle" font-family="'Liberation Sans',sans-serif">0</text>
<text transform="translate(188.2 1213.9) scale(1 1.05)" font-size="42" text-anchor="middle" font-family="'Liberation Sans',sans-serif">100</text>
<text transform="translate(361.4 1213.9) scale(1 1.05)" font-size="42" text-anchor="middle" font-family="'Liberation Sans',sans-serif">200</text>
<text transform="translate(534.6 1213.9) scale(1 1.05)" font-size="42" text-anchor="middle" font-family="'Liberation Sans',sans-serif">300</text>
<text transform="translate(707.8 1213.9) scale(1 1.05)" font-size="42" text-anchor="middle" font-family="'Liberation Sans',sans-serif">400</text>
<text transform="translate(881.0 1213.9) scale(1 1.05)" font-size="42" text-anchor="middle" font-family="'Liberation Sans',sans-serif">500</text>
<text transform="translate(1054.1 1213.9) scale(1 1.05)" font-size="42" text-anchor="middle" font-family="'Liberation Sans',sans-serif">600</text>
<text transform="translate(1227.3 1213.9) scale(1 1.05)" font-size="42" text-anchor="middle" font-family="'Liberation Sans',sans-serif">700</text>
<text transform="translate(1400.5 1213.9) scale(1 1.05)" font-size="42" text-anchor="middle" font-family="'Liberation Sans',sans-serif">800</text>
<text x="544.6" y="1306.1" font-size="52.8" font-family="'Liberation Sans',sans-serif">Raman shift (cm<tspan font-size="31" dy="-28.1">-1</tspan><tspan dy="28.1" dx="1.2">)</tspan></text>
<text transform="translate(86.0 163.2) scale(1 1.045)" font-size="98" font-family="'Liberation Sans',sans-serif">T</text>
<text transform="translate(145.9 162.9) scale(1 1.0)" font-size="98" font-family="'Liberation Sans',sans-serif">e</text>
<text transform="translate(200.4 208.5) scale(1 1.03)" font-size="58" font-family="'Liberation Sans',sans-serif">2</text>
<text transform="translate(232.6 163.2) scale(1 1.06)" font-size="98" font-family="'Liberation Sans',sans-serif">O</text>
<text transform="translate(308.9 208.8) scale(1 1.03)" font-size="58" font-family="'Liberation Sans',sans-serif">5</text>
</svg>
</body></html>
